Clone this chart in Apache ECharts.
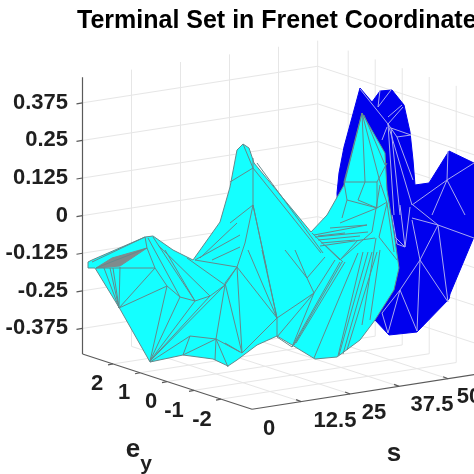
<!DOCTYPE html>
<html><head><meta charset="utf-8">
<style>html,body{margin:0;padding:0;background:#fff}#c{width:474px;height:474px}</style>
<script src="https://cdn.jsdelivr.net/npm/echarts@6/dist/echarts.min.js"></script></head>
<body><div id="c"></div>
<script>
// Axis ticks and labels
const zTicks=[0.375,0.25,0.125,0,-0.125,-0.25,-0.375];
const zLabels=['0.375','0.25','0.125','0','-0.125','-0.25','-0.375'];
const sTicks=[0,12.5,25,37.5,50];
const sLabels=['0','12.5','25','37.5','50'];
const eyTicks=[2,1,0,-1,-2];
const eyLabels=['2','1','0','-1','-2'];
const title='Terminal Set in Frenet Coordinates';
// Picture-plane readings of the two surfaces [x,y]
const blueOutline=[[337,193],[339,173],[344,147],[360,88],[372,102],[380,91],[392,90],[404,105],[410,132],[413,160],[415,185],[429,183],[449,151],[476,164],[476,232],[450,294],[449,299],[417,332],[389,335],[375,320],[340,300]];
const cyanOutline=[[88,268],[88,262],[92,260],[145,237],[153,236],[173,250],[193,260],[220,222],[230,187],[237,150],[243,144],[249,148],[254,163],[311,232],[327,215],[344,185],[362,113],[385,153],[387,190],[394,233],[399,268],[394,290],[375,320],[360,340],[337,357],[315,359],[292,345],[277,336],[257,345],[237,360],[228,366],[213,359],[183,355],[150,362],[120,309],[95,268]];
const foldWedge=[[96,268],[120,266],[147,248],[112,258]];
const cyanEdges=[
[92,262,145,237],[96,268,155,268],[96,268,147,248],[147,248,155,268],[145,237,147,248],[155,268,119,308],[155,268,167,286],[167,286,119,308],[167,286,150,361],[119,308,120,267],[110,268,119,308],[113,268,119,308],[104,268,119,308],
[148,238,180,297],[153,237,195,301],[158,245,210,296],[165,250,195,301],[180,297,167,286],[180,297,150,361],[180,297,195,301],[195,301,210,296],[195,301,150,361],[210,296,150,361],[225,285,150,361],[210,296,225,285],[187,258,225,285],[195,260,237,267],[225,285,237,267],[225,285,216,339],[190,336,216,339],[190,336,183,355],[150,362,190,336],[183,355,216,339],[216,339,215,360],[216,339,228,367],[216,339,240,352],
[195,260,240,235],[212,260,240,247],[200,258,237,223],
[230,182,253,168],[230,223,253,205],[253,158,253,205],[243,144,253,168],[253,205,245,243],[253,205,267,270],[253,205,277,318],[245,243,237,267],[257,163,323,253],[253,168,321,253],[237,267,242,353],[237,267,277,318],[225,283,237,267],[225,283,242,353],[225,343,242,353],[242,353,277,318],[277,318,277,337],[277,318,314,293],[277,337,314,293],[262,250,277,318],[248,250,277,318],[295,250,307,278],[285,250,307,278],[307,278,325,257],[314,293,307,278],[292,347,340,262],[294,345,342,262],[296,343,345,262],[314,358,358,253],[338,356,363,252],[339,355,368,252],[343,354,372,252],[347,350,377,252],[362,325,376,238],[370,320,380,250],[314,293,335,260],[292,347,314,293],[277,337,292,347],
[312,233,340,260],[314,235,367,225],[330,228,367,225],[318,240,360,236],[318,236,345,233],[321,243,355,240],[325,245,343,262],[315,237,368,232],[320,246,375,238],[340,260,372,232],[340,260,358,240],
[344,182,377,182],[344,182,347,200],[347,200,377,208],[347,200,342,218],[365,182,358,200],[358,200,377,208],[377,182,377,208],[377,182,387,163],[377,208,387,202],[377,208,340,223],[362,113,344,182],[362,113,365,182],[362,113,380,182],[364,115,385,165],[380,182,387,203],[387,203,379,237],[387,203,394,252],[380,185,372,232],[379,237,397,260]
];
const blueEdges=[
[360,89,388,124],[380,90,378,107],[391,90,378,107],[388,117,402,105],[388,124,403,107],[388,124,397,137],[391,128,411,135],[397,137,411,135],[388,124,412,205],[388,124,394,215],[387,127,382,140],[391,128,400,215],[397,137,413,180],[412,205,447,180],[447,180,474,163],[447,180,448,151],[447,180,432,215],[447,180,465,215],
[438,225,412,218],[438,225,413,205],[438,225,474,238],[438,225,420,260],[438,225,448,302],[420,260,448,302],[420,260,417,331],[420,260,412,220],[420,260,400,290],[400,290,382,313],[400,290,388,333],[400,290,417,331],[382,313,388,333],[410,207,405,247],[395,237,405,247],[397,244,405,247],[400,205,405,247],[392,215,397,244]
];
// Box of the plot as a picture-plane mapping
const box={x0:82.5,y0:354,sx:3.92,sy:-0.61,ex:27,ey:8.8,zk:-300.8,zBot:-0.46,zTop:0.46,eyMax:3.13,eyMin:-3.15,sMax:60};
function P(s,ey,z){const d=box.eyMax-ey,h=z-box.zBot;return [box.x0+s*box.sx+d*box.ex,box.y0+s*box.sy+d*box.ey+h*box.zk];}
const gridSegs=[];
zTicks.forEach(z=>{gridSegs.push([...P(0,box.eyMax,z),...P(box.sMax,box.eyMax,z)]);gridSegs.push([...P(box.sMax,box.eyMax,z),...P(box.sMax,box.eyMin,z)]);});
sTicks.slice(1).forEach(s=>{gridSegs.push([...P(s,box.eyMax,box.zBot),...P(s,box.eyMax,box.zTop)]);gridSegs.push([...P(s,box.eyMax,box.zBot),...P(s,box.eyMin,box.zBot)]);});
gridSegs.push([...P(box.sMax,box.eyMax,box.zBot),...P(box.sMax,box.eyMax,box.zTop)]);
eyTicks.forEach(e=>{gridSegs.push([...P(0,e,box.zBot),...P(box.sMax,e,box.zBot)]);gridSegs.push([...P(box.sMax,e,box.zBot),...P(box.sMax,e,box.zTop)]);});
const axisSegs=[[...P(0,box.eyMax,box.zBot),...P(0,box.eyMax,box.zTop)],[...P(0,box.eyMax,box.zBot),...P(0,box.eyMin,box.zBot)],[...P(0,box.eyMin,box.zBot),...P(box.sMax,box.eyMin,box.zBot)]];
zTicks.forEach(z=>{const p=P(0,box.eyMax,z);axisSegs.push([p[0]-6,p[1]+1,p[0],p[1]]);});
eyTicks.forEach(e=>{const p=P(0,e,box.zBot);axisSegs.push([p[0],p[1],p[0]-5,p[1]+1]);});
sTicks.slice(1).forEach(s=>{const p=P(s,box.eyMin,box.zBot);axisSegs.push([p[0],p[1],p[0]-5,p[1]-2]);});
const zText=zTicks.map((z,i)=>[68,P(0,box.eyMax,z)[1],zLabels[i],'right',22]);
const eyAnchors=[[97,384],[124,393],[151,402],[174,411],[202,420]];
const sAnchors=[[269,429],[335,421],[374,413],[432,405],[469,397]];
const textItems=[...zText,
 ...eyLabels.map((t,i)=>[eyAnchors[i][0],eyAnchors[i][1],t,'center',22]),
 ...sLabels.map((t,i)=>[sAnchors[i][0],sAnchors[i][1],t,'center',22]),
 [133,450,'e','center',26],[146,464,'y','center',21],[394,454,'s','center',26]];

function segSeries(data,color,width,z){return {type:'custom',coordinateSystem:'cartesian2d',silent:true,clip:false,z,data,encode:{x:[0,2],y:[1,3]},
 renderItem:(p,api)=>{const a=api.coord([api.value(0),api.value(1)]),b=api.coord([api.value(2),api.value(3)]);
  return {type:'line',shape:{x1:a[0],y1:a[1],x2:b[0],y2:b[1]},style:{stroke:color,lineWidth:width,opacity:1}};}};}
function polySeries(pts,color,stroke,z){return {type:'custom',coordinateSystem:'cartesian2d',silent:true,clip:false,z,data:[[0,0]],
 renderItem:(p,api)=>({type:'polygon',shape:{points:pts.map(q=>api.coord(q))},style:{fill:color,stroke:stroke,lineWidth:1}})};}
const chart=echarts.init(document.getElementById('c'),null,{renderer:'canvas'});
chart.setOption({animation:false,backgroundColor:'#fff',
 title:{text:title,left:72,top:4,textStyle:{fontFamily:'Liberation Sans',fontWeight:'bold',fontSize:25,color:'#000'}},
 grid:{left:0,right:0,top:0,bottom:0},
 xAxis:{type:'value',min:0,max:474,show:false},
 yAxis:{type:'value',min:0,max:474,inverse:true,show:false},
 series:[
  segSeries(gridSegs,'#e6e6e6',1,1),
  segSeries(axisSegs,'#5a5a5a',1.2,2),
  polySeries(blueOutline,'#0000ee','#0000ee',3),
  segSeries(blueEdges,'#a8a8f0',1,4),
  polySeries(cyanOutline,'#14ffff','#64898c',5),
  polySeries(foldWedge,'#808a8c','#808a8c',6),
  segSeries(cyanEdges,'#64898c',1,7),
  {type:'custom',coordinateSystem:'cartesian2d',silent:true,clip:false,z:8,data:textItems.map((t,i)=>[t[0],t[1],i]),
   renderItem:(p,api)=>{const t=textItems[p.dataIndex],c=api.coord([t[0],t[1]]);
    return {type:'text',x:c[0],y:c[1],style:{text:t[2],fill:'#1f1f1f',font:'bold '+t[4]+'px "Liberation Sans"',textAlign:t[3],textVerticalAlign:'middle'}};}}
 ]});
</script></body></html>
